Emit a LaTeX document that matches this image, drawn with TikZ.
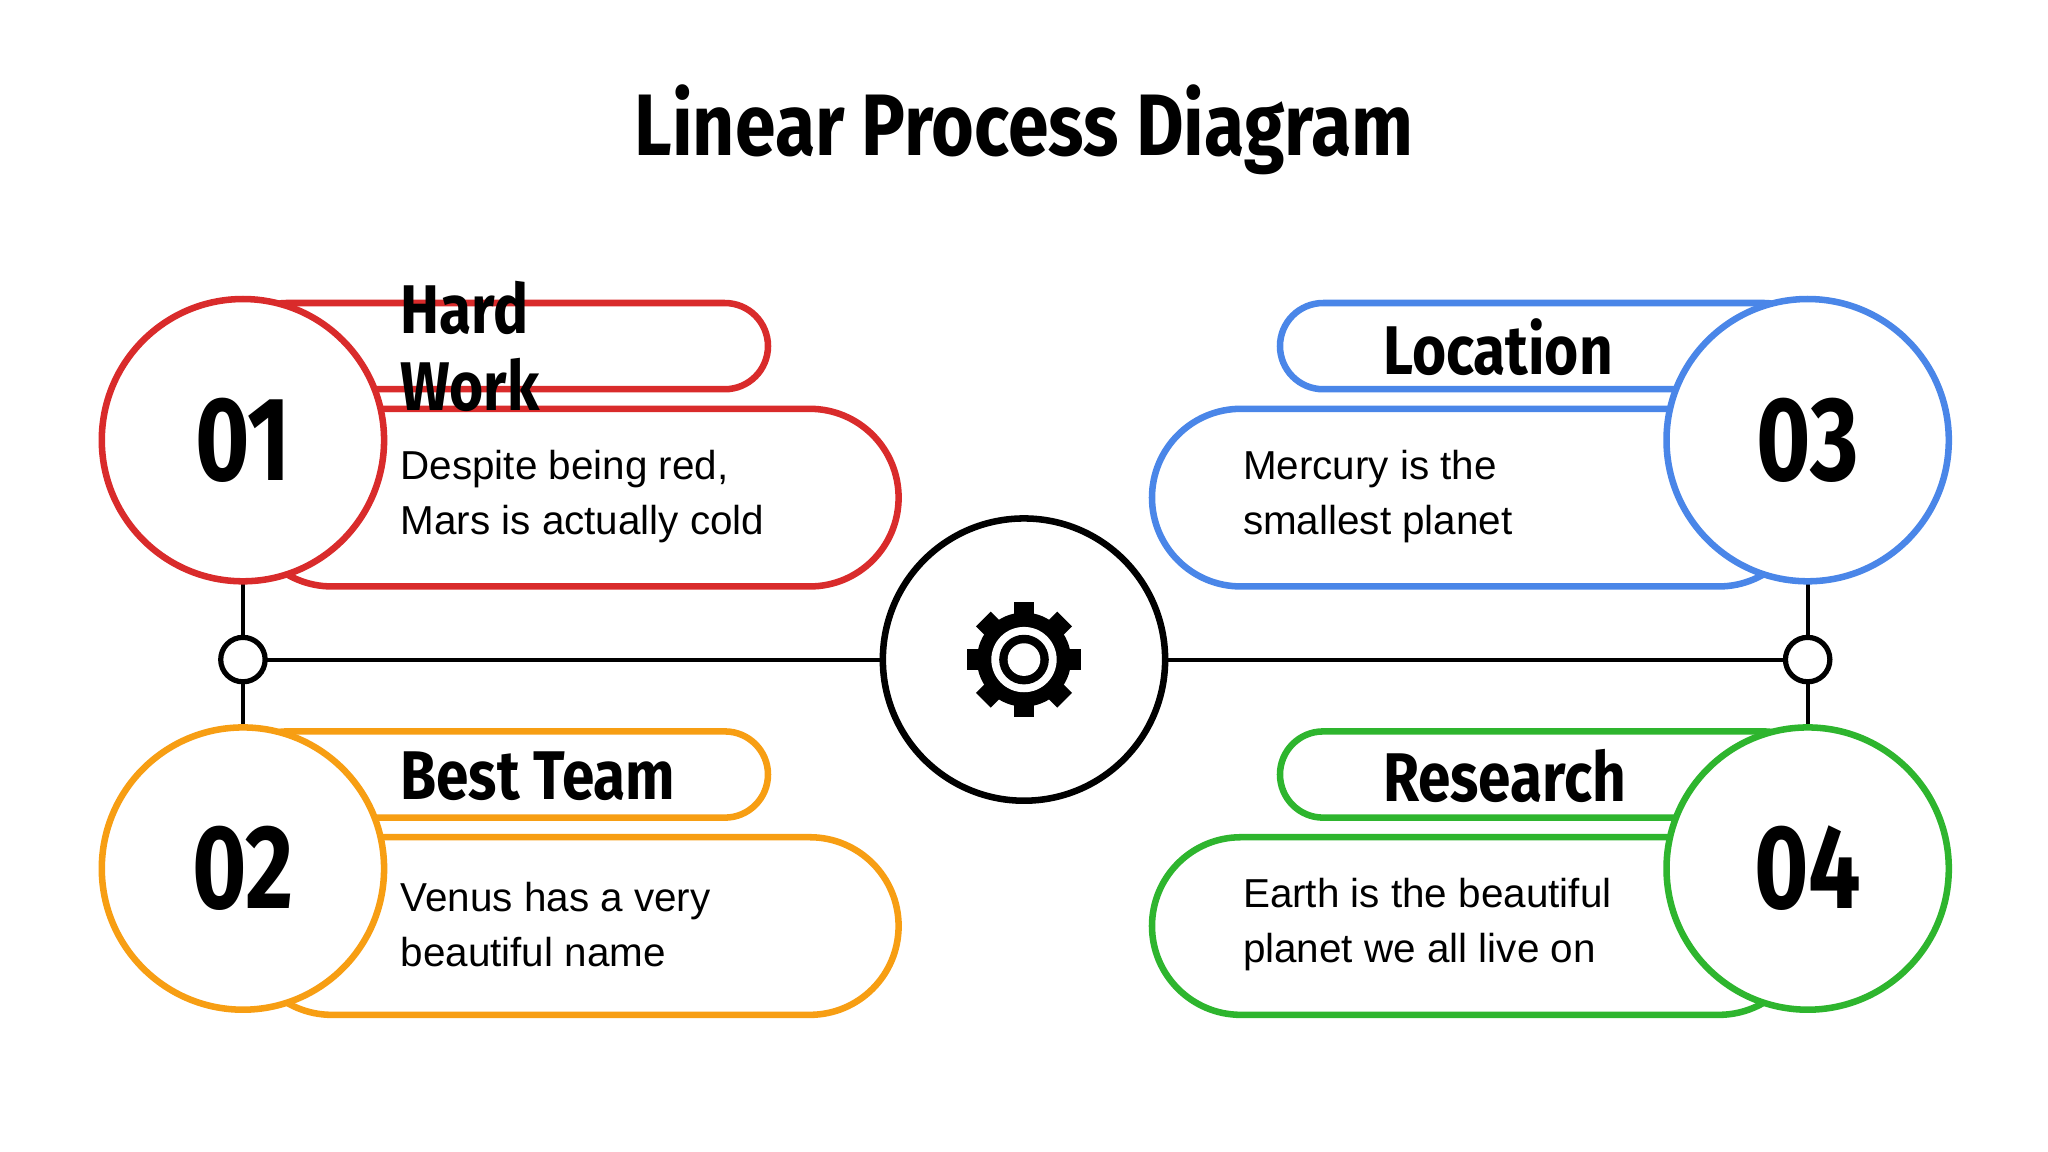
\documentclass[tikz,border=0pt]{standalone}
\usepackage{fontspec}
\setmainfont{Liberation Sans}
\newfontfamily\headf{Fira Sans}
\begin{document}
\begin{tikzpicture}[x=0.01cm,y=-0.01cm,
  pill/.style={line width=0.05cm,fill=white},
  numc/.style={circle,line width=0.05cm,fill=white,minimum size=2.16cm,inner sep=0pt,font=\headf\bfseries\fontsize{26}{26}\selectfont},
  head/.style={font=\headf\bfseries\fontsize{15}{15}\selectfont,inner sep=0pt},
  body/.style={font=\fontsize{8.8}{12}\selectfont,align=left,inner sep=0pt,anchor=west},
  dotc/.style={circle,draw=black,line width=0.04cm,fill=white,minimum size=0.34cm,inner sep=0pt}]
\definecolor{cr}{HTML}{D92B2B}
\definecolor{co}{HTML}{F79E13}
\definecolor{cb}{HTML}{4A86E8}
\definecolor{cg}{HTML}{2EB52E}
\useasboundingbox (0,0) rectangle (1568,882);
\node[font=\headf\bfseries\fontsize{19}{19}\selectfont,xscale=0.84] (title) at (784,99) {Linear Process Diagram};
% connectors
\coordinate (l1) at (186,505);
\coordinate (r1) at (1384,505);
\draw[line width=0.03cm] (186,445) -- (186,560);
\draw[line width=0.03cm] (1384,445) -- (1384,560);
\draw[line width=0.03cm] (l1) -- (r1);
\node[dotc] (dl) at (l1) {};
\node[dotc] (dr) at (r1) {};
% pills
\draw[pill,draw=cr,rounded corners=0.33cm] (186,232) rectangle (588,298);
\draw[pill,draw=cr,rounded corners=0.68cm] (186,313) rectangle (688,449);
\draw[pill,draw=co,rounded corners=0.33cm] (186,560) rectangle (588,626);
\draw[pill,draw=co,rounded corners=0.68cm] (186,641) rectangle (688,777);
\draw[pill,draw=cb,rounded corners=0.33cm] (980,232) rectangle (1384,298);
\draw[pill,draw=cb,rounded corners=0.68cm] (882,313) rectangle (1384,449);
\draw[pill,draw=cg,rounded corners=0.33cm] (980,560) rectangle (1384,626);
\draw[pill,draw=cg,rounded corners=0.68cm] (882,641) rectangle (1384,777);
% circles
\node[numc,draw=cr] (n1) at (186,337) {\scalebox{0.78}[1]{01}};
\node[numc,draw=co] (n2) at (186,665) {\scalebox{0.78}[1]{02}};
\node[numc,draw=cb] (n3) at (1384,337) {\scalebox{0.78}[1]{03}};
\node[numc,draw=cg] (n4) at (1384,665) {\scalebox{0.78}[1]{04}};
\node[numc,draw=black] (c) at (784,505) {};
% gear
\foreach \a in {0,45,90,135}
  \fill[rotate around={\a:(784,505)}] (776,461) rectangle (792,549);
\fill (784,505) circle[radius=0.36cm];
\fill[white] (784,505) circle[radius=0.25cm];
\fill (784,505) circle[radius=0.19cm];
\fill[white] (784,505) circle[radius=0.125cm];
% texts
\node[head,anchor=west,xscale=0.85] (h1a) at (306,236) {Hard};
\node[head,anchor=west,xscale=0.85] (h1b) at (306,295) {Work};
\node[head,anchor=west,xscale=0.85] (h2) at (306,594) {Best Team};
\node[head,xscale=0.85] (h3) at (1147,266) {Location};
\node[head,xscale=0.85] (h4) at (1152,594) {Research};
\node[body] (t1) at (306,380) {Despite being red,\\Mars is actually cold};
\node[body] (t2) at (306,708) {Venus has a very\\beautiful name};
\node[body] (t3) at (951,380) {Mercury is the\\smallest planet};
\node[body] (t4) at (951,708) {Earth is the beautiful\\planet we all live on};
\end{tikzpicture}
\end{document}
